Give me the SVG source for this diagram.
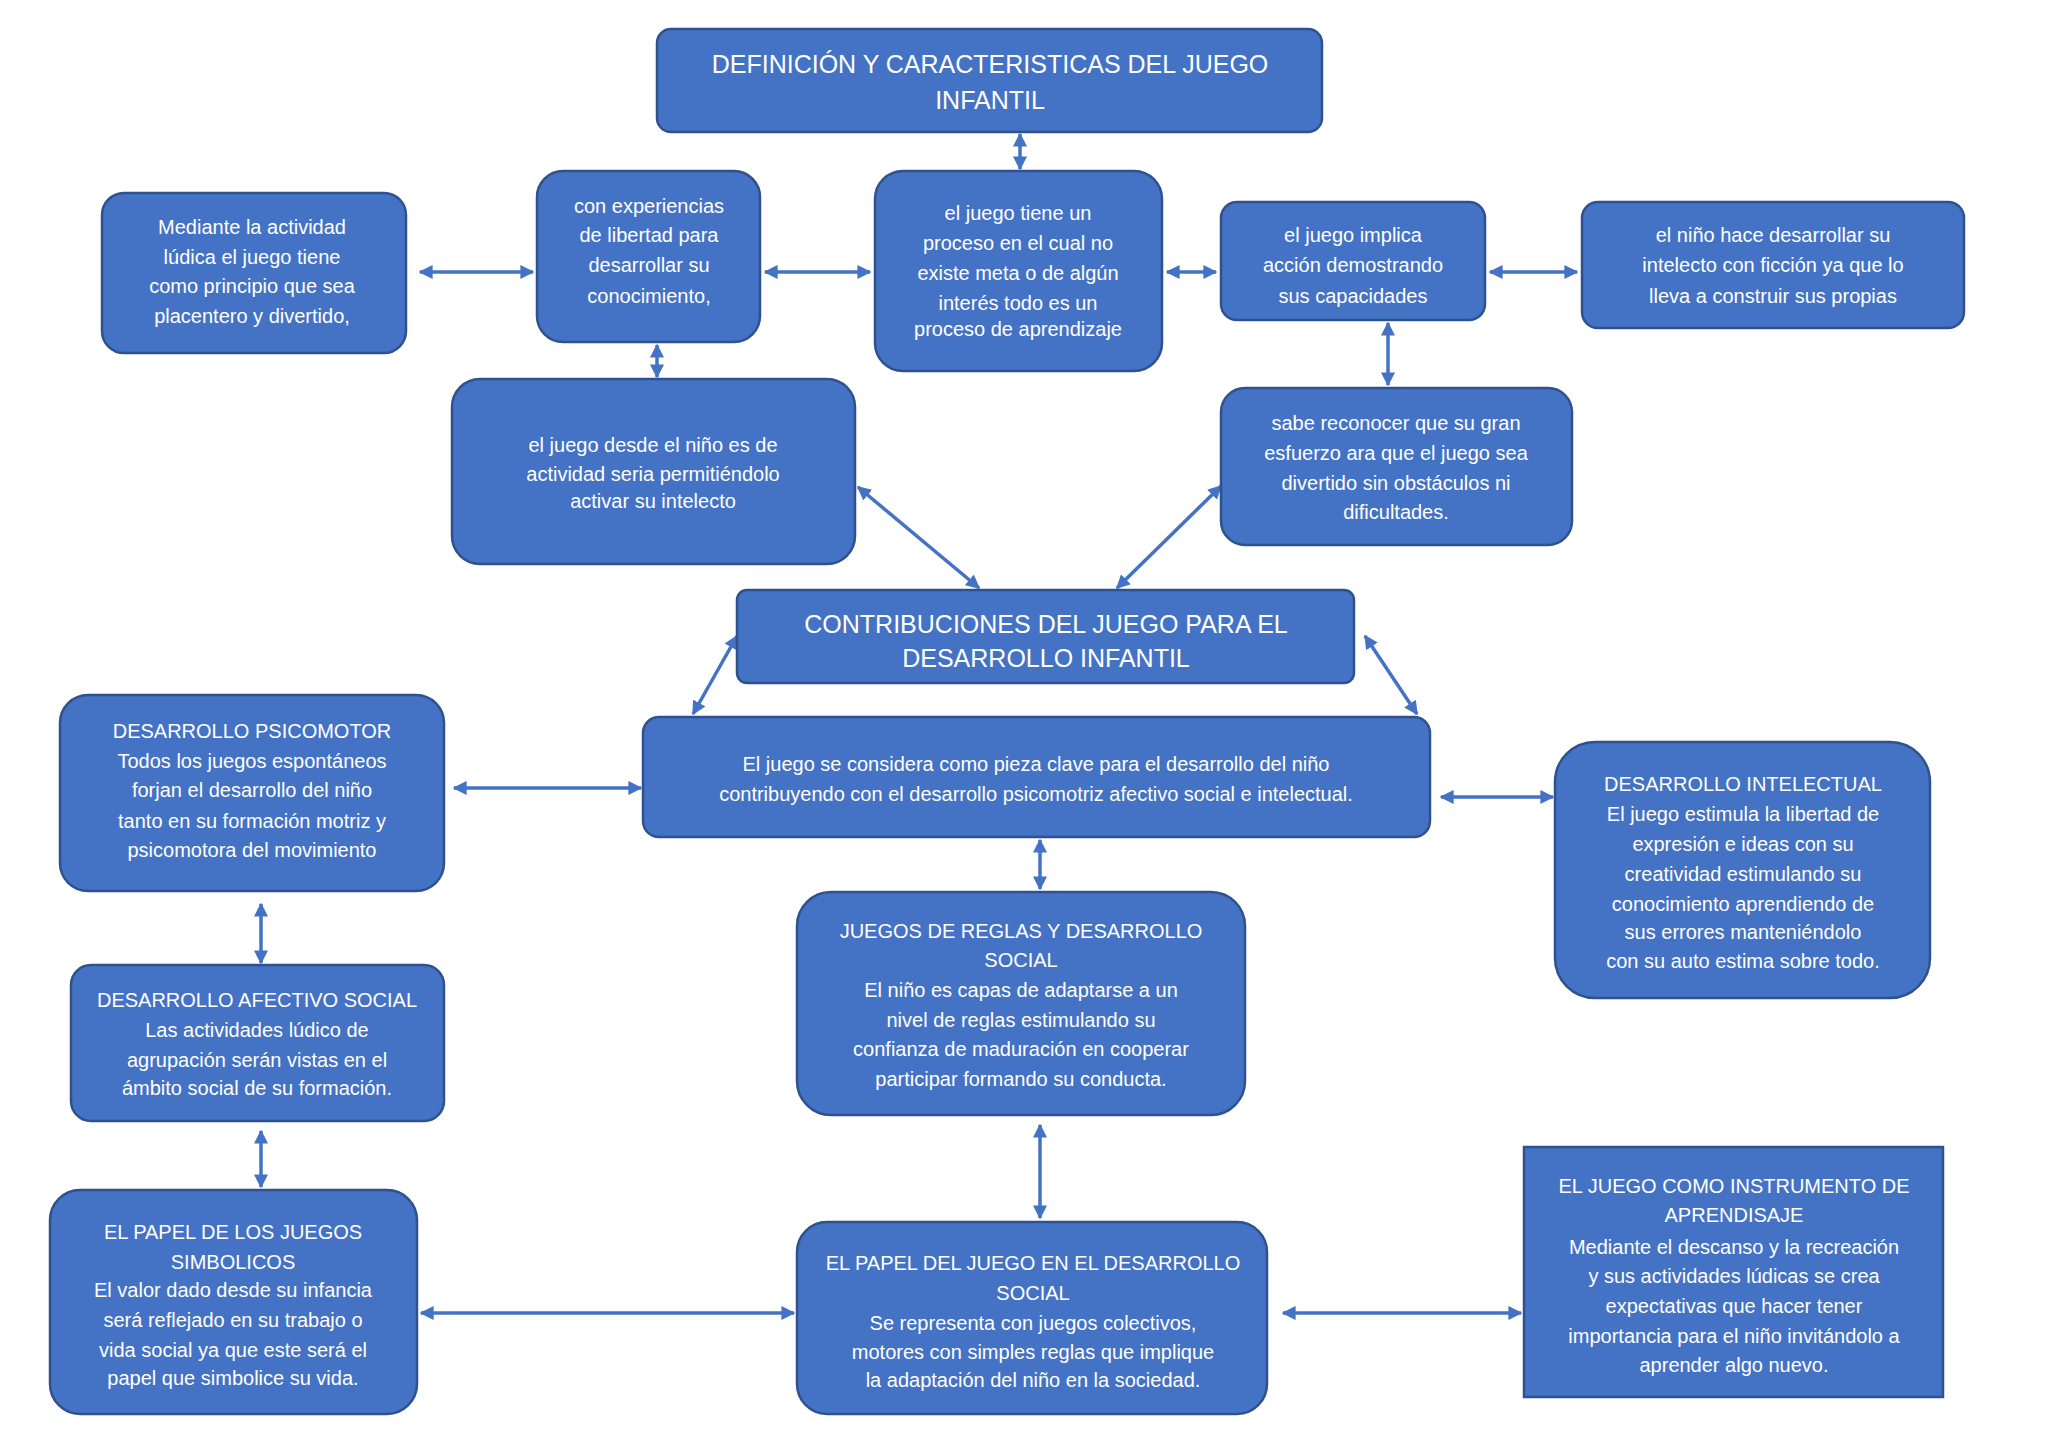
<svg xmlns="http://www.w3.org/2000/svg" width="2048" height="1446" viewBox="0 0 2048 1446">
<defs>
<marker id="ah" viewBox="0 0 10 10" refX="9" refY="5" markerWidth="4" markerHeight="4" orient="auto-start-reverse"><path d="M0,0 L10,5 L0,10 z" fill="#4472C4"/></marker>
<style>
.n{fill:#4472C4;stroke:#2F528F;stroke-width:2.5}
text{font-family:"Liberation Sans",Arial,sans-serif;fill:#fff;font-size:20px;text-anchor:middle;dominant-baseline:central}
.t{font-size:25px}
.c line{stroke:#4472C4;stroke-width:3.5;marker-start:url(#ah);marker-end:url(#ah)}
</style>
</defs>
<rect width="2048" height="1446" fill="#fff"/>
<g class="c">
<line x1="1020" y1="134" x2="1020" y2="169"/>
<line x1="420" y1="272" x2="533" y2="272"/>
<line x1="765" y1="272" x2="870" y2="272"/>
<line x1="1167" y1="272" x2="1216" y2="272"/>
<line x1="1490" y1="272" x2="1577" y2="272"/>
<line x1="657" y1="345" x2="657" y2="377"/>
<line x1="1388" y1="323" x2="1388" y2="385"/>
<line x1="858" y1="487" x2="979" y2="588"/>
<line x1="1221" y1="486" x2="1117" y2="588"/>
<line x1="737" y1="636" x2="693" y2="714"/>
<line x1="1365" y1="636" x2="1417" y2="714"/>
<line x1="454" y1="788" x2="641" y2="788"/>
<line x1="1441" y1="797" x2="1553" y2="797"/>
<line x1="1040" y1="840" x2="1040" y2="889"/>
<line x1="261" y1="904" x2="261" y2="963"/>
<line x1="261" y1="1131" x2="261" y2="1187"/>
<line x1="1040" y1="1125" x2="1040" y2="1218"/>
<line x1="421" y1="1313" x2="794" y2="1313"/>
<line x1="1283" y1="1313" x2="1521" y2="1313"/>
</g>
<g id="title"><rect class="n" x="657" y="29" width="665" height="103" rx="14"/><text class="t" x="990" y="64">DEFINICIÓN Y CARACTERISTICAS DEL JUEGO</text><text class="t" x="990" y="100">INFANTIL</text></g>
<g id="a"><rect class="n" x="102" y="193" width="304" height="160" rx="22"/><text x="252" y="227">Mediante la actividad</text><text x="252" y="257">lúdica el juego tiene</text><text x="252" y="286">como principio que  sea</text><text x="252" y="316">placentero y divertido,</text></g>
<g id="b"><rect class="n" x="537" y="171" width="223" height="171" rx="26"/><text x="649" y="206">con experiencias</text><text x="649" y="235">de libertad para</text><text x="649" y="265">desarrollar su</text><text x="649" y="296">conocimiento,</text></g>
<g id="c"><rect class="n" x="875" y="171" width="287" height="200" rx="28"/><text x="1018" y="213">el juego tiene un</text><text x="1018" y="243">proceso en el cual no</text><text x="1018" y="273">existe meta  o de algún</text><text x="1018" y="303">interés todo es un</text><text x="1018" y="329">proceso de aprendizaje</text></g>
<g id="d"><rect class="n" x="1221" y="202" width="264" height="118" rx="16"/><text x="1353" y="235">el juego implica</text><text x="1353" y="265">acción demostrando</text><text x="1353" y="296">sus capacidades</text></g>
<g id="e"><rect class="n" x="1582" y="202" width="382" height="126" rx="16"/><text x="1773" y="235">el niño hace desarrollar su</text><text x="1773" y="265">intelecto con ficción ya que lo</text><text x="1773" y="296">lleva a construir sus propias</text></g>
<g id="f"><rect class="n" x="452" y="379" width="403" height="185" rx="28"/><text x="653" y="445">el juego desde el niño es de</text><text x="653" y="474">actividad seria permitiéndolo</text><text x="653" y="501">activar su intelecto</text></g>
<g id="g"><rect class="n" x="1221" y="388" width="351" height="157" rx="24"/><text x="1396" y="423">sabe reconocer que su gran</text><text x="1396" y="453">esfuerzo ara que el juego sea</text><text x="1396" y="483">divertido sin obstáculos ni</text><text x="1396" y="512">dificultades.</text></g>
<g id="h"><rect class="n" x="737" y="590" width="617" height="93" rx="10"/><text class="t" x="1046" y="624">CONTRIBUCIONES DEL JUEGO PARA EL</text><text class="t" x="1046" y="658">DESARROLLO INFANTIL</text></g>
<g id="i"><rect class="n" x="643" y="717" width="787" height="120" rx="16"/><text x="1036" y="764">El juego se considera como pieza clave para el desarrollo del niño</text><text x="1036" y="794">contribuyendo con el desarrollo psicomotriz afectivo social e intelectual.</text></g>
<g id="j"><rect class="n" x="60" y="695" width="384" height="196" rx="28"/><text x="252" y="731">DESARROLLO  PSICOMOTOR</text><text x="252" y="761">Todos los juegos espontáneos</text><text x="252" y="790">forjan el desarrollo del niño</text><text x="252" y="821">tanto en su formación motriz y</text><text x="252" y="850">psicomotora del movimiento</text></g>
<g id="k"><rect class="n" x="1555" y="742" width="375" height="256" rx="40"/><text x="1743" y="784">DESARROLLO  INTELECTUAL</text><text x="1743" y="814">El juego estimula la libertad de</text><text x="1743" y="844">expresión e ideas con su</text><text x="1743" y="874">creatividad estimulando su</text><text x="1743" y="904">conocimiento  aprendiendo de</text><text x="1743" y="932">sus errores  manteniéndolo</text><text x="1743" y="961">con su auto estima sobre todo.</text></g>
<g id="l"><rect class="n" x="797" y="892" width="448" height="223" rx="34"/><text x="1021" y="931">JUEGOS  DE REGLAS  Y DESARROLLO</text><text x="1021" y="960">SOCIAL</text><text x="1021" y="990">El niño es capas de adaptarse a un</text><text x="1021" y="1020">nivel de reglas estimulando su</text><text x="1021" y="1049">confianza de maduración en cooperar</text><text x="1021" y="1079">participar formando su conducta.</text></g>
<g id="m"><rect class="n" x="71" y="965" width="373" height="156" rx="20"/><text x="257" y="1000">DESARROLLO  AFECTIVO  SOCIAL</text><text x="257" y="1030">Las actividades lúdico de</text><text x="257" y="1060">agrupación serán vistas en el</text><text x="257" y="1088">ámbito social de su formación.</text></g>
<g id="n"><rect class="n" x="50" y="1190" width="367" height="224" rx="30"/><text x="233" y="1232">EL PAPEL DE LOS JUEGOS</text><text x="233" y="1262">SIMBOLICOS</text><text x="233" y="1290">El valor dado desde su infancia</text><text x="233" y="1320">será reflejado en su trabajo o</text><text x="233" y="1350">vida social ya que este será el</text><text x="233" y="1378">papel que simbolice su vida.</text></g>
<g id="o"><rect class="n" x="797" y="1222" width="470" height="192" rx="30"/><text x="1033" y="1263">EL PAPEL DEL JUEGO  EN EL DESARROLLO</text><text x="1033" y="1293">SOCIAL</text><text x="1033" y="1323">Se representa con juegos colectivos,</text><text x="1033" y="1352">motores  con simples reglas que implique</text><text x="1033" y="1380">la adaptación  del niño en la sociedad.</text></g>
<g id="p"><rect class="n" x="1524" y="1147" width="419" height="250"/><text x="1734" y="1186">EL JUEGO  COMO INSTRUMENTO  DE</text><text x="1734" y="1215">APRENDISAJE</text><text x="1734" y="1247">Mediante el descanso y la recreación</text><text x="1734" y="1276">y sus actividades lúdicas se crea</text><text x="1734" y="1306">expectativas que hacer tener</text><text x="1734" y="1336">importancia para el niño invitándolo a</text><text x="1734" y="1365">aprender algo nuevo.</text></g>
</svg>
